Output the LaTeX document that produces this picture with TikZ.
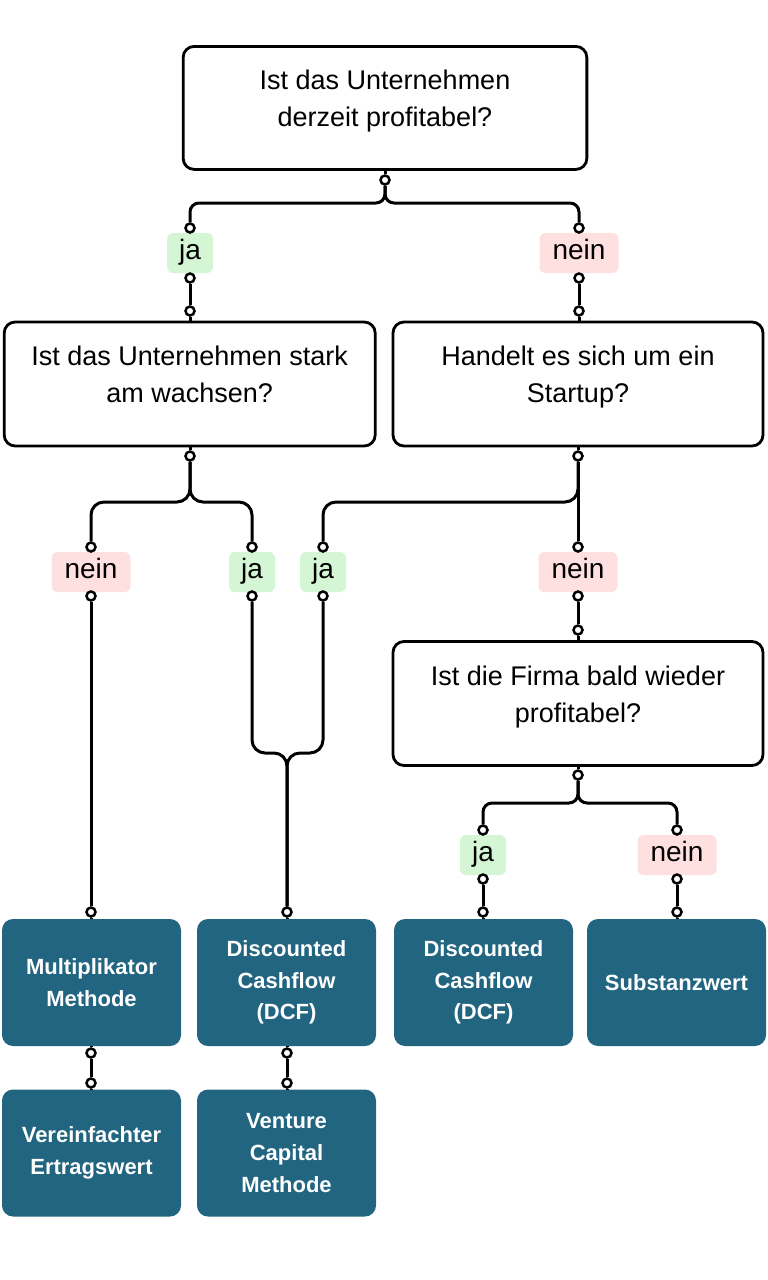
\documentclass[tikz,border=0pt]{standalone}
\usepackage{fontspec}
\setmainfont{Liberation Sans}
\definecolor{tealbox}{RGB}{33,101,128}
\definecolor{jagreen}{RGB}{212,246,212}
\definecolor{neinpink}{RGB}{255,224,224}
\begin{document}
\begin{tikzpicture}[x=1pt,y=-1pt,
  qbox/.style={draw=black, line width=2.8pt, rounded corners=11pt, fill=white,
    minimum width=371pt, minimum height=124pt, inner sep=0pt, align=center,
    font=\fontsize{27}{37}\selectfont, text depth=18.7pt},
  res/.style={fill=tealbox, rounded corners=11pt, text=white,
    font=\bfseries\fontsize{22}{31.7}\selectfont, align=center,
    minimum width=179pt, minimum height=127pt, inner sep=0pt},
  lab/.style={rounded corners=6pt, minimum height=40pt, inner sep=0pt,
    font=\fontsize{28}{32}\selectfont, text height=19pt, text depth=6pt},
  ja/.style={lab, fill=jagreen, minimum width=46pt},
  nein/.style={lab, fill=neinpink, minimum width=79pt},
  dot/.style={circle, draw=black, fill=white, line width=2.5pt, minimum size=9pt, inner sep=0pt},
  conn/.style={draw=black, line width=3pt}
]
\useasboundingbox (0,0) rectangle (768,1280);

% question boxes
\node[qbox, minimum width=403.7pt, minimum height=123pt] (q0) at (385,107.9) {Ist das Unternehmen\\derzeit profitabel?};
\node[qbox] (q1) at (189.7,384) {Ist das Unternehmen stark\\am wachsen?};
\node[qbox, minimum width=370pt] (q2) at (578,384) {Handelt es sich um ein\\Startup?};
\node[qbox, minimum width=370pt] (q3) at (578,703.5) {Ist die Firma bald wieder\\profitabel?};

% result boxes
\node[res] (r1) at (91.5,982.5) {Multiplikator\\Methode};
\node[res] (r2) at (286.5,982.5) {Discounted\\Cashflow\\(DCF)};
\node[res] (r3) at (483.5,982.5) {Discounted\\Cashflow\\(DCF)};
\node[res] (r4) at (676.5,982.5) {Substanzwert};
\node[res] (r5) at (91.5,1153) {Vereinfachter\\Ertragswert};
\node[res] (r6) at (286.5,1153) {Venture\\Capital\\Methode};

% labels
\node[ja] (l1) at (190,253) {ja};
\node[nein] (l2) at (579,253) {nein};
\node[nein] (l3) at (91,572) {nein};
\node[ja] (l4) at (252,572) {ja};
\node[ja] (l5) at (323,572) {ja};
\node[nein] (l6) at (578,572) {nein};
\node[ja] (l7) at (483,855) {ja};
\node[nein] (l8) at (677,855) {nein};

% junction coordinates
\coordinate (f0) at (385,203);
\coordinate (f1) at (190,502);
\coordinate (f2) at (578,502);
\coordinate (f3) at (578,803);
\coordinate (m1) at (252,753);
\coordinate (m2) at (287,753);
\coordinate (m3) at (323,753);

% dots
\node[dot] (c0) at (385,180) {};
\node[dot] (c1) at (190,228) {};
\node[dot] (c2) at (190,278) {};
\node[dot] (c3) at (190,311) {};
\node[dot] (c4) at (579,228) {};
\node[dot] (c5) at (579,278) {};
\node[dot] (c6) at (579,311) {};
\node[dot] (c7) at (190,456) {};
\node[dot] (c8) at (91,547) {};
\node[dot] (c9) at (91,596) {};
\node[dot] (c10) at (91,912) {};
\node[dot] (c11) at (252,547) {};
\node[dot] (c12) at (252,596) {};
\node[dot] (c13) at (323,547) {};
\node[dot] (c14) at (323,596) {};
\node[dot] (c15) at (287,912) {};
\node[dot] (c16) at (578,456) {};
\node[dot] (c17) at (578,547) {};
\node[dot] (c18) at (578,596) {};
\node[dot] (c19) at (578,630) {};
\node[dot] (c20) at (578,775) {};
\node[dot] (c21) at (483,830) {};
\node[dot] (c22) at (483,879) {};
\node[dot] (c23) at (483,912) {};
\node[dot] (c24) at (677,830) {};
\node[dot] (c25) at (677,879) {};
\node[dot] (c26) at (677,912) {};
\node[dot] (c27) at (91,1053) {};
\node[dot] (c28) at (91,1083) {};
\node[dot] (c29) at (287,1053) {};
\node[dot] (c30) at (287,1083) {};

% connectors
\draw[conn] (c0 |- q0.south) -- (c0);
\draw[conn, rounded corners=9pt] (c0) -- (f0) -| (c1);
\draw[conn, rounded corners=9pt] (c0) -- (f0) -| (c4);
\draw[conn] (c2) -- (c3);
\draw[conn] (c3) -- (c3 |- q1.north);
\draw[conn] (c5) -- (c6);
\draw[conn] (c6) -- (c6 |- q2.north);

\draw[conn] (c7 |- q1.south) -- (c7);
\draw[conn, rounded corners=13pt] (c7) -- (f1) -| (c8);
\draw[conn, rounded corners=13pt] (c7) -- (f1) -| (c11);
\draw[conn] (c9) -- (c10);
\draw[conn] (c10) -- (c10 |- r1.north);
\draw[conn, rounded corners=13pt] (c12) -- (m1) -- (m2) -- (c15);
\draw[conn, rounded corners=13pt] (c14) -- (m3) -- (m2) -- (c15);
\draw[conn] (c15) -- (c15 |- r2.north);

\draw[conn] (c16 |- q2.south) -- (c16);
\draw[conn] (c16) -- (c17);
\draw[conn, rounded corners=13pt] (c16) -- (f2) -| (c13);
\draw[conn] (c18) -- (c19);
\draw[conn] (c19) -- (c19 |- q3.north);

\draw[conn] (c20 |- q3.south) -- (c20);
\draw[conn, rounded corners=9pt] (c20) -- (f3) -| (c21);
\draw[conn, rounded corners=9pt] (c20) -- (f3) -| (c24);
\draw[conn] (c22) -- (c23);
\draw[conn] (c23) -- (c23 |- r3.north);
\draw[conn] (c25) -- (c26);
\draw[conn] (c26) -- (c26 |- r4.north);

\draw[conn] (c27 |- r1.south) -- (c27);
\draw[conn] (c27) -- (c28);
\draw[conn] (c28) -- (c28 |- r5.north);
\draw[conn] (c29 |- r2.south) -- (c29);
\draw[conn] (c29) -- (c30);
\draw[conn] (c30) -- (c30 |- r6.north);
\end{tikzpicture}
\end{document}
